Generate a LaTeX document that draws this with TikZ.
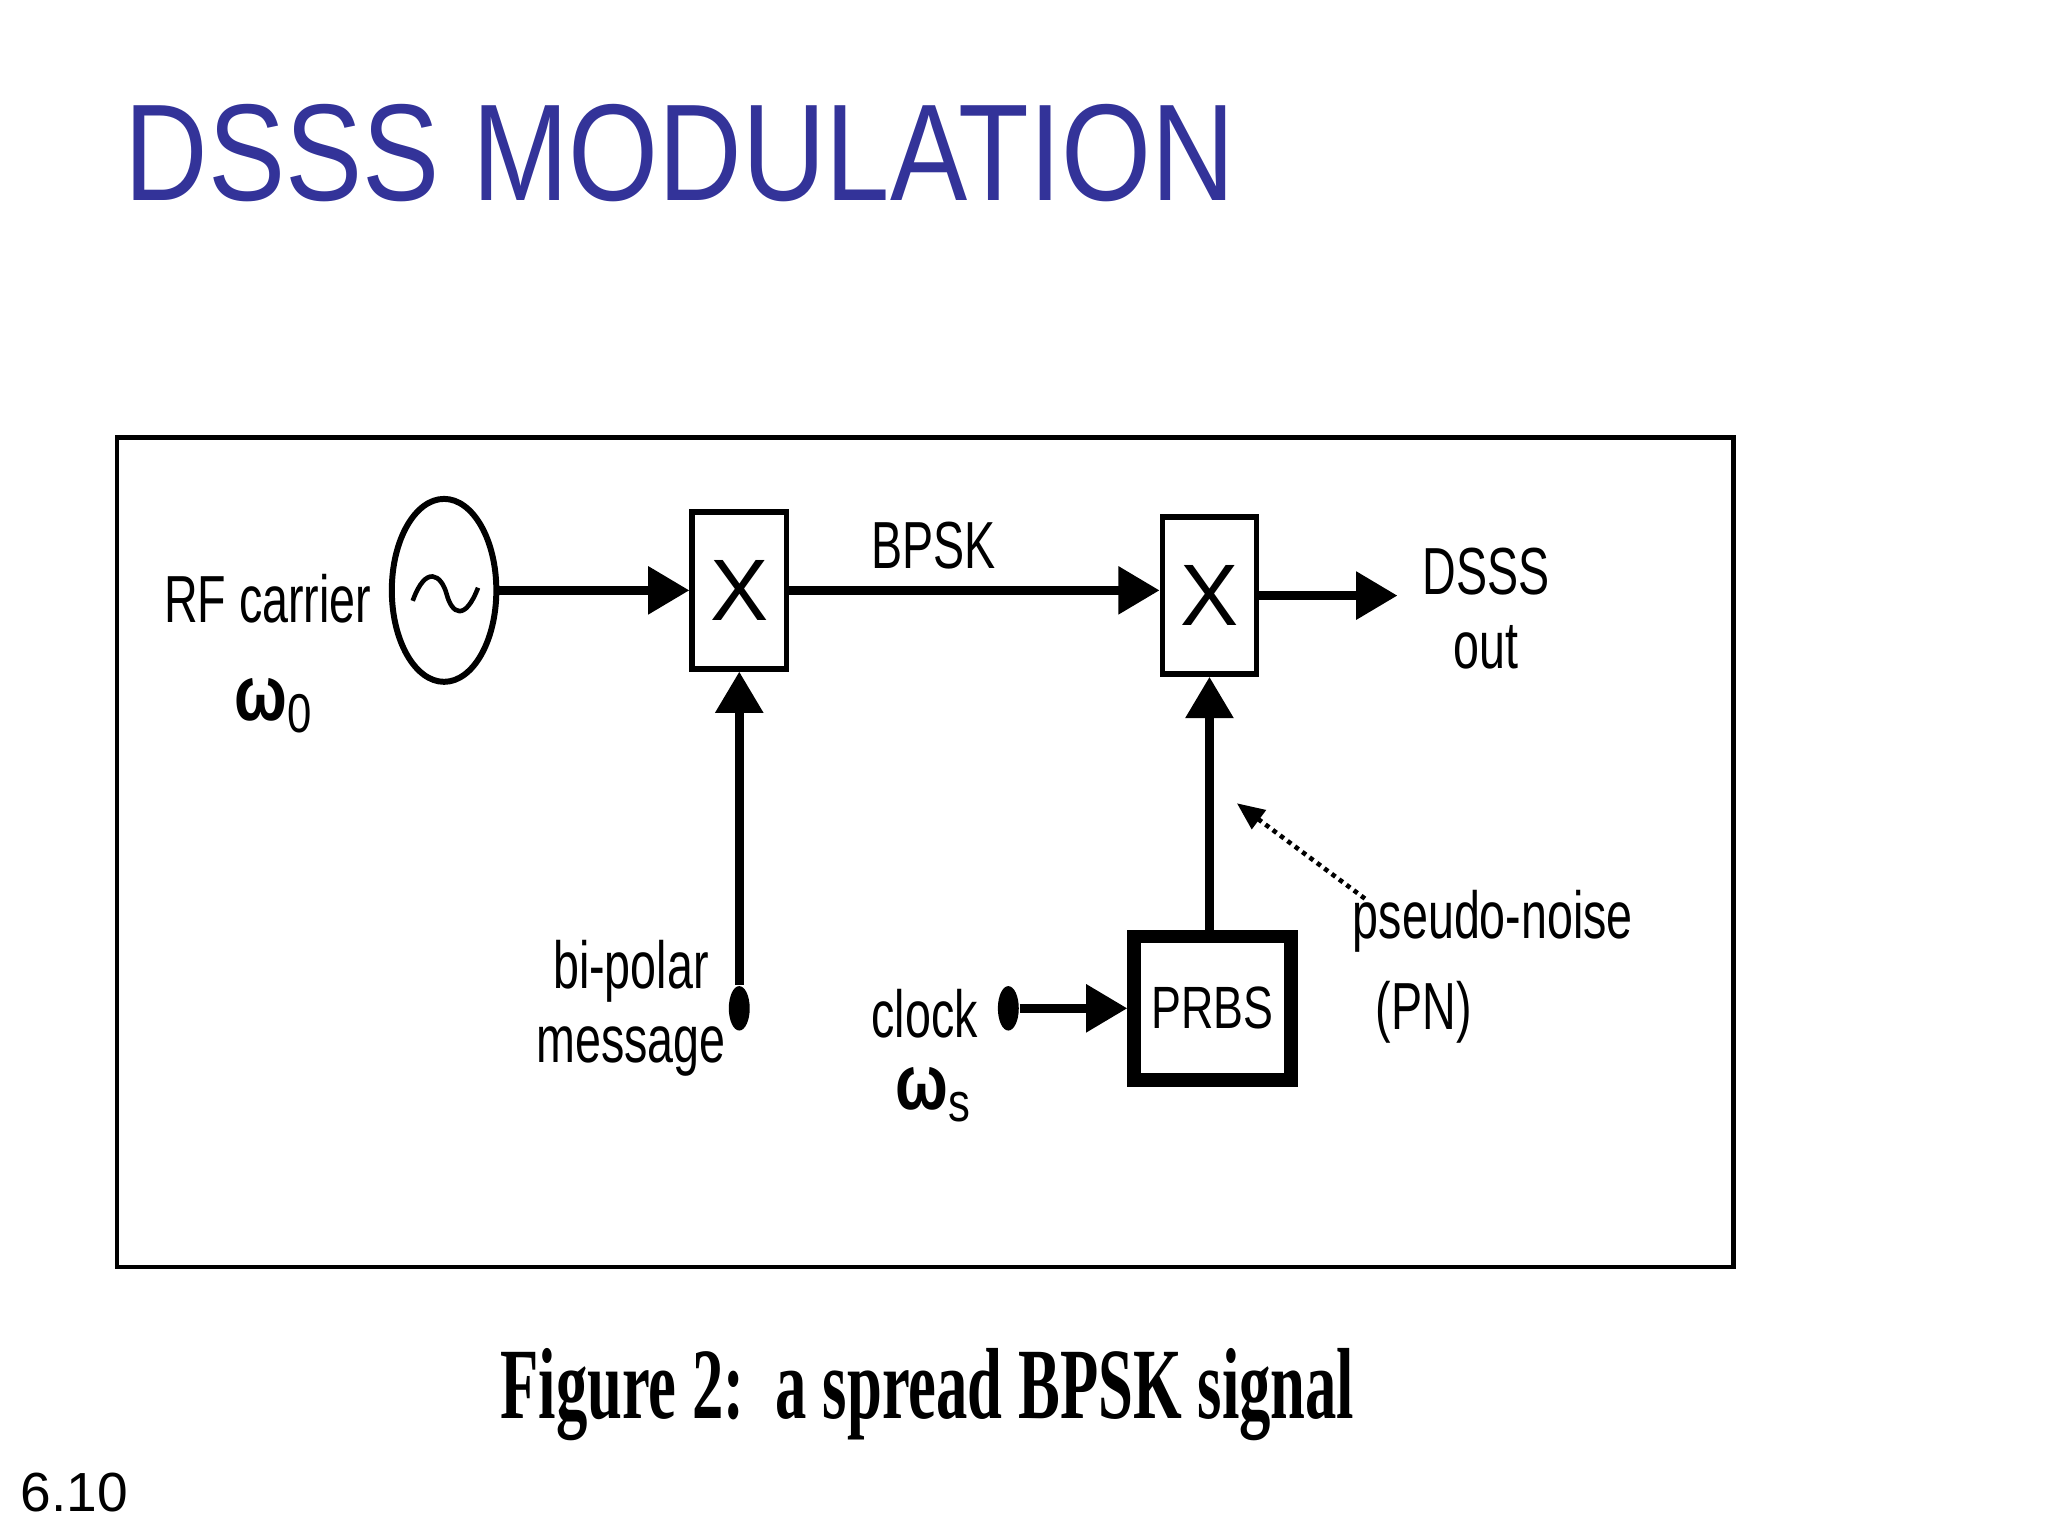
\documentclass[tikz,border=0pt]{standalone}
\usepackage{fontspec}
\setmainfont{Liberation Sans}
\newfontfamily\capfont{Liberation Serif}
\usetikzlibrary{arrows.meta,shapes.geometric}
\definecolor{titleblue}{RGB}{51,51,153}
\begin{document}
\begin{tikzpicture}[x=0.01cm,y=-0.01cm,
  lbl/.style={font=\fontsize{14.5}{16}\selectfont, xscale=0.7, inner sep=0pt, align=center},
  om/.style={font=\fontsize{17}{17}\selectfont\bfseries, xscale=0.8, inner sep=0pt},
  sig/.style={line width=2pt,-{Triangle[length=9pt,width=10pt]}},
  dot/.style={fill,ellipse,minimum width=16*0.2845pt,minimum height=34*0.2845pt,inner sep=0pt},
  mix/.style={draw,line width=1.2pt,minimum width=72*0.2845pt,minimum height=120*0.2845pt,inner sep=0pt,font=\fontsize{19}{19}\selectfont}]
\useasboundingbox (0,0) rectangle (1568,1176);
\node[anchor=west,text=titleblue,font=\fontsize{30}{30}\selectfont,xscale=0.84,inner sep=0pt] (title) at (95,117) {DSSS MODULATION};
\node[draw,line width=1pt,minimum width=1237*0.2845pt,minimum height=635*0.2845pt,inner sep=0pt] (frame) at (708.5,652.5) {};
\node[draw,line width=1.3pt,ellipse,minimum width=80*0.2845pt,minimum height=140*0.2845pt,inner sep=0pt] (osc) at (340,452) {};
\draw[line width=1pt] (316,460) .. controls (326,432) and (338,440) .. (342,455) .. controls (346,470) and (356,476) .. (366,450);
\node[lbl] (rf) at (205,458) {RF carrier};
\node[om] (w0) at (210,540) {ω\textsubscript{\mdseries 0}};
\node[mix] (m1) at (566,452) {X};
\node[mix] (m2) at (926,456) {X};
\node[lbl] (bpsk) at (715,418) {BPSK};
\draw[sig] (osc.east) -- (m1.west);
\draw[sig] (m1.east) -- (m2.west |- m1.east);
\coordinate (out) at (1070,456);
\draw[sig] (m2.east) -- (out);
\node[lbl] (dsss) at (1138,466) {DSSS\\out};
\node[dot] (d1) at (566,772) {};
\draw[sig] (d1) -- (m1.south);
\node[lbl] (bp) at (483,772) {bi-polar\\message};
\node[draw,line width=3pt,minimum width=120*0.2845pt,minimum height=110*0.2845pt,inner sep=0pt,font=\fontsize{13}{14}\selectfont] (prbs) at (928.5,772) {\scalebox{0.75}[1]{PRBS}};
\draw[sig] (prbs.north -| m2.south) -- (m2.south);
\node[dot] (d2) at (772,772) {};
\draw[sig] (d2) -- (prbs.west);
\node[lbl] (clk) at (708,776) {clock};
\node[om] (ws) at (715,838) {ω\textsubscript{\mdseries s}};
\node[lbl] (pn) at (1143,705) {pseudo-noise};
\node[lbl] (pn2) at (1090,775) {(PN)};
\coordinate (pnarrow) at (947,615);
\draw[densely dotted,line width=1pt,-{Triangle[length=6pt,width=5pt]}] (1045,688) -- (pnarrow);
\node[font=\capfont\fontsize{22}{22}\selectfont\bfseries,xscale=0.62,inner sep=0pt] (cap) at (710,1068) {Figure 2:\ \ a spread BPSK signal};
\node[font=\fontsize{12}{12}\selectfont,inner sep=0pt] (pg) at (57,1143) {6.10};
\end{tikzpicture}
\end{document}
